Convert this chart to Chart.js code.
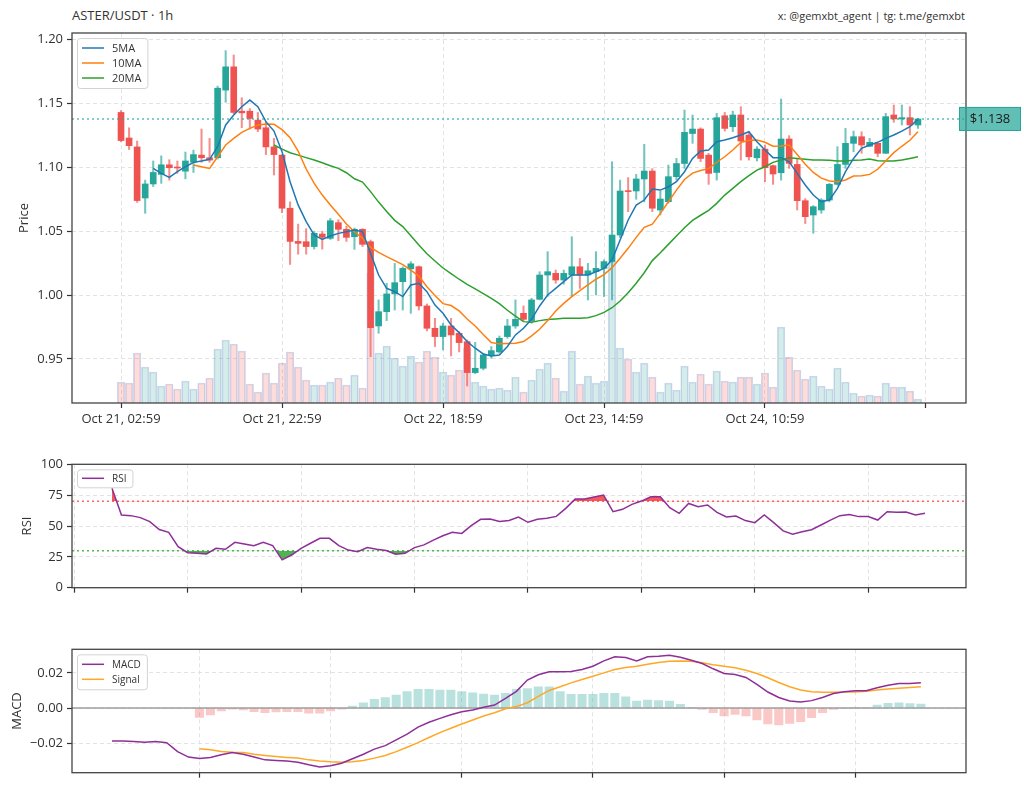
<!DOCTYPE html>
<html>
<head>
<meta charset="utf-8">
<script src="https://cdn.jsdelivr.net/npm/chart.js@4.4.1/dist/chart.umd.min.js"></script>
<style>
  body { margin: 0; background: #fff; font-family: 'Open Sans', 'Noto Sans', sans-serif; }
  #wrap { position: relative; width: 1024px; height: 787px; overflow: hidden; }
  canvas { position: absolute; left: 0; }
  .hdr { position: absolute; color: #333; white-space: nowrap; line-height: 18px; }
</style>
</head>
<body>
<div id="wrap">
  <div class="hdr" style="left:72px; top:6px; font-size:13px;">ASTER/USDT · 1h</div>
  <div class="hdr" style="right:59px; top:7px; font-size:11px;">x: @gemxbt_agent | tg: t.me/gemxbt</div>
  <canvas id="priceChart" width="1024" height="432" style="top:0"></canvas>
  <canvas id="rsiChart" width="1024" height="170" style="top:440px"></canvas>
  <canvas id="macdChart" width="1024" height="157" style="top:630px"></canvas>
</div>
<script>
// hourly candles, ASTER/USDT (index 0 = Oct 21, 02:59)
const opens = [1.143,1.123,1.116,1.076,1.087,1.0945,1.102,1.1002,1.097,1.104,
  1.1096,1.1075,1.1075,1.1605,1.1787,1.144,1.144,1.137,1.131,1.116,
  1.1096,1.068,1.042,1.0418,1.038,1.0478,1.0444,1.0567,1.0515,1.0457,
  1.0515,1.0418,0.9758,0.987,1.0009,1.0105,1.0205,1.0222,0.9915,0.974,
  0.9675,0.9758,0.9701,0.9635,0.9393,0.9427,0.9531,0.9555,0.9675,0.9758,
  0.9857,0.980,0.9967,1.0157,1.017,1.0118,1.0157,1.0222,1.0157,1.0183,
  1.0209,1.0262,1.047,1.0815,1.0815,1.0909,1.0971,1.0666,1.0731,1.0927,
  1.103,1.1265,1.130,1.1096,1.096,1.1404,1.1318,1.141,1.1253,1.1075,
  1.1143,1.1013,1.0958,1.1222,1.1023,1.0739,1.0627,1.0666,1.0744,1.0867,
  1.1023,1.1188,1.124,1.1165,1.1188,1.111,1.141,1.1379,1.1389,1.1332];
const highs = [1.1445,1.131,1.1206,1.090,1.105,1.109,1.106,1.105,1.112,1.1135,
  1.130,1.1227,1.1636,1.1914,1.188,1.1545,1.146,1.143,1.1357,1.1227,
  1.110,1.073,1.0556,1.052,1.050,1.050,1.060,1.059,1.054,1.0525,
  1.052,1.0431,0.9962,1.0092,1.0248,1.0222,1.0262,1.0228,0.993,0.9818,
  0.978,0.9818,0.9714,0.9649,0.963,0.9544,0.9597,0.968,0.981,0.9962,
  0.9915,0.9975,1.0183,1.034,1.0196,1.0196,1.0457,1.0287,1.0248,1.034,
  1.0275,1.1044,1.090,1.092,1.0945,1.118,1.099,1.0815,1.1018,1.107,
  1.1449,1.141,1.131,1.111,1.1423,1.143,1.144,1.1475,1.1279,1.1162,
  1.1175,1.1018,1.1535,1.1248,1.107,1.0755,1.070,1.0755,1.0875,1.1162,
  1.1305,1.1284,1.1279,1.1227,1.119,1.1423,1.1488,1.1488,1.1475,1.1384];
const lows = [1.120,1.114,1.0726,1.064,1.085,1.0875,1.090,1.0953,1.091,1.096,
  1.104,1.104,1.1065,1.151,1.142,1.131,1.130,1.128,1.110,1.094,
  1.0645,1.024,1.032,1.032,1.036,1.036,1.0435,1.0426,1.042,1.0358,
  1.038,0.9518,0.9701,0.980,0.9883,0.9883,0.9857,0.9883,0.972,0.9597,
  0.9571,0.9523,0.9555,0.9288,0.9385,0.9414,0.9505,0.9545,0.9662,0.974,
  0.980,0.978,0.9962,0.999,1.0092,1.0085,0.9988,1.0052,0.9962,1.0001,
  0.9988,0.9962,1.045,1.0653,1.075,1.073,1.0653,1.0627,1.072,1.09,
  1.0992,1.1188,1.1044,1.0867,1.090,1.1284,1.128,1.1057,1.1057,1.105,
  1.0888,1.0867,1.090,1.0992,1.0666,1.056,1.0484,1.064,1.073,1.086,
  1.0992,1.1122,1.111,1.1162,1.1083,1.111,1.1353,1.1332,1.1253,1.1305];
const closes = [1.121,1.117,1.074,1.087,1.096,1.102,1.0997,1.0995,1.105,1.110,
  1.1075,1.1057,1.162,1.1787,1.143,1.1427,1.1383,1.130,1.116,1.110,
  1.068,1.042,1.0405,1.038,1.0484,1.0452,1.0582,1.0515,1.0452,1.0515,
  1.0397,0.9745,0.987,1.0009,1.0097,1.0209,1.0245,0.9915,0.974,0.9675,
  0.9758,0.9688,0.9628,0.9393,0.9427,0.9531,0.9565,0.9662,0.9758,0.981,
  0.981,0.9962,1.0157,1.0183,1.0118,1.017,1.0222,1.0157,1.019,1.0209,
  1.0262,1.047,1.0815,1.081,1.0909,1.0971,1.068,1.0752,1.0927,1.103,
  1.1274,1.130,1.107,1.0953,1.1389,1.1305,1.141,1.1206,1.1083,1.1143,
  1.0997,1.0948,1.1222,1.1031,1.0739,1.0614,1.0692,1.0744,1.0867,1.1023,
  1.1188,1.124,1.1175,1.1196,1.111,1.1397,1.1379,1.1389,1.1332,1.1379];
// volume, relative units (axis top = 370)
const volumes = [21,20,50,36,31,17,19,14,22,14,
  20,25,54,63,59,52,19,11,30,20,
  40,51,36,23,18,18,21,25,18,28,
  15,130,50,57,45,37,47,41,52,46,
  31,28,33,55,21,17,14,15,13,26,
  11,23,34,40,25,12,52,19,27,20,
  22,141,55,44,31,40,26,11,20,13,
  37,21,29,19,32,22,21,26,26,19,
  30,16,76,46,33,24,27,17,14,35,
  21,10,7,8,7,20,16,16,12,4];

// moving averages as drawn (first value at candle 4, 9 and 19)
const ma5 = [1.0992,1.0953,1.0922,1.0966,1.1005,1.1039,1.105,1.1063,1.1162,1.1332,
  1.141,1.1475,1.1527,1.1475,1.1358,1.1284,1.1123,1.0888,1.0706,1.0575,
  1.047,1.0436,1.0462,1.0483,1.0496,1.051,1.0496,1.0327,1.0157,1.0053,
  1.0027,0.9988,1.0079,1.0092,1.0027,0.9922,0.9857,0.9766,0.9706,0.9636,
  0.9584,0.9539,0.9523,0.9531,0.9597,0.9688,0.974,0.981,0.9915,1.0001,
  1.0053,1.0105,1.0157,1.0157,1.0157,1.0183,1.0209,1.0275,1.0431,1.0588,
  1.0705,1.0744,1.083,1.0822,1.0848,1.0888,1.0966,1.107,1.1128,1.1136,
  1.1201,1.1214,1.1232,1.1253,1.1279,1.1201,1.1136,1.1076,1.1076,1.1044,
  1.0953,1.0862,1.0783,1.0731,1.0744,1.0835,1.0966,1.107,1.1149,1.1175,
  1.1196,1.1227,1.1253,1.1284,1.1318,1.1376];
const ma10 = [1.1018,1.1005,1.0992,1.1083,1.1175,1.1227,1.1274,1.1305,1.1332,1.134,
  1.1337,1.1295,1.1232,1.1128,1.0987,1.0875,1.0783,1.0705,1.0632,1.0557,
  1.0496,1.0444,1.0374,1.0335,1.0301,1.027,1.0238,1.0196,1.0149,1.0066,
  0.9996,0.9933,0.9918,0.9876,0.9813,0.9758,0.9691,0.9628,0.9618,0.962,
  0.9623,0.9636,0.968,0.9732,0.98,0.9876,0.9935,0.9988,1.0035,1.0079,
  1.0124,1.016,1.0215,1.0288,1.0366,1.0452,1.053,1.0555,1.064,1.0731,
  1.0822,1.0905,1.0955,1.0975,1.099,1.104,1.1083,1.1136,1.1195,1.1212,
  1.1214,1.1196,1.1165,1.1168,1.1175,1.11,1.1025,1.096,1.0916,1.0893,
  1.0888,1.0901,1.0932,1.0935,1.0945,1.0985,1.105,1.1115,1.1165,1.1212,
  1.1279];
const ma20 = [1.1175,1.1143,1.1115,1.1096,1.1076,1.1057,1.1036,1.1013,1.0992,1.0958,
  1.0911,1.0885,1.081,1.0728,1.0655,1.0585,1.0536,1.0465,1.0392,1.0324,
  1.0267,1.0212,1.0168,1.0124,1.0084,1.0048,1.0011,0.9975,0.9933,0.9881,
  0.9836,0.9792,0.9787,0.98,0.9808,0.9813,0.9818,0.9818,0.9818,0.9823,
  0.9839,0.9865,0.9901,0.9954,1.0019,1.0092,1.0175,1.027,1.0332,1.0397,
  1.0462,1.0527,1.0585,1.0625,1.0663,1.0718,1.0783,1.0835,1.0888,1.0935,
  1.0979,1.1005,1.1039,1.1057,1.1076,1.107,1.1063,1.1057,1.1057,1.1055,
  1.1049,1.1049,1.1055,1.1057,1.1065,1.1052,1.1049,1.1049,1.1057,1.107,
  1.1083];

const rsi = [80.5,58.9,58.4,56.8,53.6,47.2,44.9,33.3,28.4,27.9,
  27.3,31.9,31.1,36.8,35.4,34.1,36.8,34.1,22.6,26.5,
  31.9,36.0,40.0,40.0,34.1,30.5,29.2,32.5,31.1,30.1,
  27.1,27.9,32.5,34.7,38.6,42.1,44.9,44.0,50.3,55.4,
  55.7,53.6,54.4,57.3,53.0,55.4,56.2,57.8,64.3,71.8,
  71.8,73.5,75.1,61.6,63.5,67.5,70.2,73.7,73.7,64.8,
  60.3,68.3,65.6,67.0,61.1,57.3,58.1,54.4,52.7,58.9,
  52.7,46.0,43.3,45.4,47.0,50.8,54.8,58.4,59.4,57.6,
  57.6,54.8,61.6,61.1,61.4,58.9,60.3];
const rsiHigh = 70;
const rsiLow = 30;

const macd = [-0.0187,-0.0187,-0.0191,-0.0195,-0.0191,-0.0197,-0.0248,-0.0279,-0.0287,-0.0281,
  -0.0266,-0.0253,-0.0263,-0.0279,-0.0295,-0.0298,-0.0302,-0.0308,-0.0323,-0.0335,
  -0.0329,-0.0314,-0.0289,-0.0263,-0.0234,-0.0214,-0.0181,-0.0149,-0.0109,-0.0081,
  -0.0059,-0.0038,-0.0021,-0.0011,0.0004,0.0017,0.0055,0.0095,0.0159,0.0189,
  0.0206,0.0206,0.0208,0.0219,0.0238,0.0268,0.0291,0.0287,0.0268,0.0291,
  0.0294,0.0300,0.0289,0.0272,0.0253,0.0223,0.0196,0.0191,0.0174,0.0134,
  0.0091,0.0060,0.0040,0.0034,0.0042,0.0060,0.0083,0.0093,0.0098,0.0098,
  0.0115,0.0130,0.0140,0.0140,0.0144];
// signal and histogram start at macd index 8
const signal = [-0.0232,-0.0238,-0.0247,-0.0251,-0.0253,-0.0263,-0.0270,-0.0276,-0.0281,-0.0285,
  -0.0295,-0.0302,-0.0306,-0.0308,-0.0306,-0.0298,-0.0285,-0.0270,-0.0248,-0.0223,
  -0.0197,-0.0168,-0.0140,-0.0115,-0.0091,-0.0068,-0.0045,-0.0027,-0.0004,0.0008,
  0.0030,0.0066,0.0100,0.0121,0.0143,0.0162,0.0181,0.0200,0.0219,0.0230,
  0.0238,0.0249,0.0259,0.0266,0.0268,0.0266,0.0257,0.0246,0.0238,0.0229,
  0.0215,0.0196,0.0172,0.0145,0.0121,0.0102,0.0093,0.0089,0.0089,0.0091,
  0.0091,0.0096,0.0102,0.0108,0.0113,0.0117,0.0121];
const hist = [-0.0053,-0.0040,-0.0017,-0.0006,-0.0011,-0.0021,-0.0026,-0.0022,-0.0021,-0.0021,
  -0.0030,-0.0030,-0.0017,-0.0006,0.0011,0.0030,0.0049,0.0060,0.0074,0.0093,
  0.0106,0.0106,0.0102,0.0102,0.0093,0.0087,0.0079,0.0074,0.0083,0.0106,
  0.0111,0.0121,0.0121,0.0093,0.0078,0.0078,0.0078,0.0083,0.0083,0.0064,
  0.0040,0.0045,0.0042,0.0040,0.0021,0.0002,-0.0008,-0.0026,-0.0045,-0.0036,
  -0.0045,-0.0068,-0.0091,-0.0096,-0.0087,-0.0077,-0.0055,-0.0026,-0.0008,0.0000,
  0.0002,0.0002,0.0017,0.0026,0.0030,0.0025,0.0023];

const xTickIdx = [0, 20, 40, 60, 80, 100];
const xTickLabels = ['Oct 21, 02:59', 'Oct 21, 22:59', 'Oct 22, 18:59', 'Oct 23, 14:59', 'Oct 24, 10:59', ''];
const priceTicks = [0.95, 1.00, 1.05, 1.10, 1.15, 1.20];
const rsiTicks = [0, 25, 50, 75, 100];
const rsiXTicks = [-4, 8, 20, 32, 44, 56, 68, 80];
const macdTicks = [-0.02, 0, 0.02];
const macdXTicks = [8, 20, 32, 44, 56, 68];

const upColor = '#26a69a';
const downColor = '#ef5350';
const lastPrice = closes[closes.length - 1];

Chart.defaults.font.family = "'Open Sans', 'Noto Sans', sans-serif";
Chart.defaults.font.size = 13;
Chart.defaults.color = '#333';

const framePlugin = {
  id: 'frame',
  afterDraw(chart) {
    const {ctx, chartArea: a} = chart;
    ctx.save();
    ctx.strokeStyle = '#444';
    ctx.lineWidth = 1.3;
    ctx.strokeRect(a.left, a.top, a.right - a.left, a.bottom - a.top);
    ctx.restore();
  }
};

// matplotlib-like legend box in the top-left corner
const boxLegend = {
  id: 'boxLegend',
  afterDraw(chart, args, opts) {
    if (!opts.items) return;
    const {ctx, chartArea: a} = chart;
    ctx.save();
    ctx.font = opts.size + "px 'Open Sans', sans-serif";
    const textW = Math.max(...opts.items.map(it => ctx.measureText(it.label).width));
    const x = a.left + 5, y = a.top + 5;
    const w = 35 + textW + 6;
    const h = opts.items.length * opts.row + 5;
    ctx.fillStyle = 'rgba(255,255,255,0.85)';
    ctx.strokeStyle = '#d3d3d3';
    ctx.lineWidth = 1;
    ctx.beginPath();
    ctx.roundRect(x + 0.5, y + 0.5, w, h, 3);
    ctx.fill();
    ctx.stroke();
    opts.items.forEach((it, j) => {
      const cy = y + 2.5 + opts.row * (j + 0.5);
      ctx.strokeStyle = it.color;
      ctx.lineWidth = 1.5;
      ctx.beginPath();
      ctx.moveTo(x + 5, cy);
      ctx.lineTo(x + 27, cy);
      ctx.stroke();
      ctx.fillStyle = '#333';
      ctx.textBaseline = 'middle';
      ctx.fillText(it.label, x + 35, cy + 0.5);
    });
    ctx.restore();
  }
};

const priceTag = {
  id: 'priceTag',
  afterDraw(chart, args, opts) {
    if (opts.value == null) return;
    const {ctx, chartArea: a} = chart;
    const y = chart.scales.y.getPixelForValue(opts.value);
    const x = a.right - 7;
    ctx.save();
    ctx.fillStyle = 'rgba(38,166,154,0.72)';
    ctx.fillRect(x, y - 12, 62, 24);
    ctx.strokeStyle = '#26a69a';
    ctx.lineWidth = 1;
    ctx.strokeRect(x + 0.5, y - 11.5, 61, 23);
    ctx.fillStyle = '#1a1a1a';
    ctx.font = "13px 'Open Sans', sans-serif";
    ctx.textAlign = 'center';
    ctx.textBaseline = 'middle';
    ctx.fillText(opts.label, x + 31, y + 0.5);
    ctx.restore();
  }
};

const gridOpts = {
  color: '#e3e3e3', lineWidth: 1, offset: false,
  tickLength: 5, tickColor: '#333', tickWidth: 1.2, tickBorderDash: []
};

const xScale = (min, max, tickVals, labels, height) => ({
  type: 'linear', min: min, max: max, offset: false,
  afterBuildTicks: s => { s.ticks = tickVals.map(v => ({value: v})); },
  afterFit: s => { s.height = height; },
  ticks: {
    autoSkip: false, maxRotation: 0, padding: 3,
    callback: (v, i) => labels ? labels[i] : ''
  },
  grid: gridOpts,
  border: {display: false, dash: [4, 3]}
});

const yScale = (min, max, tickVals, fmt, title, titlePad) => ({
  type: 'linear', position: 'left', min: min, max: max,
  afterBuildTicks: s => { s.ticks = tickVals.map(v => ({value: v})); },
  afterFit: s => { s.width = 72; },
  ticks: {padding: 4, callback: fmt},
  grid: gridOpts,
  border: {display: false, dash: [4, 3]},
  title: {display: true, text: title, font: {size: 13}, padding: {top: titlePad, bottom: 0}}
});

const baseOpts = {
  responsive: false,
  animation: false,
  events: [],
  plugins: {legend: {display: false}, tooltip: {enabled: false}}
};

// ---------- price panel ----------
const pXMin = -6.09, pXMax = 104.97;
const candleColor = closes.map((c, i) => c >= opens[i] ? upColor : downColor);
const wickColor = closes.map((c, i) => c >= opens[i] ? 'rgba(38,166,154,0.65)' : 'rgba(239,83,80,0.65)');
const volColor = closes.map((c, i) => c >= opens[i] ? 'rgba(38,166,154,0.2)' : 'rgba(239,83,80,0.2)');

new Chart(document.getElementById('priceChart'), {
  type: 'line',
  data: {
    datasets: [
      {
        label: 'last', data: [{x: pXMin, y: lastPrice}, {x: pXMax, y: lastPrice}],
        borderColor: 'rgba(38,166,154,0.75)', borderWidth: 1.6, borderDash: [2, 3],
        pointRadius: 0, order: 0
      },
      {
        label: '5MA', data: ma5.map((v, j) => ({x: j + 4, y: v})),
        borderColor: '#1f77b4', borderWidth: 1.5, pointRadius: 0, order: 1
      },
      {
        label: '10MA', data: ma10.map((v, j) => ({x: j + 9, y: v})),
        borderColor: '#ff7f0e', borderWidth: 1.5, pointRadius: 0, order: 2
      },
      {
        label: '20MA', data: ma20.map((v, j) => ({x: j + 19, y: v})),
        borderColor: '#2ca02c', borderWidth: 1.5, pointRadius: 0, order: 3
      },
      {
        type: 'bar', label: 'body',
        data: opens.map((o, i) => ({x: i, y: [Math.min(o, closes[i]), Math.max(o, closes[i])]})),
        backgroundColor: candleColor, barThickness: 6, grouped: false, minBarLength: 1, order: 4
      },
      {
        type: 'bar', label: 'wick',
        data: highs.map((h, i) => ({x: i, y: [lows[i], h]})),
        backgroundColor: wickColor, barThickness: 1.4, grouped: false, order: 5
      },
      {
        type: 'bar', label: 'volume', yAxisID: 'yv',
        data: volumes.map((v, i) => ({x: i, y: v})),
        backgroundColor: volColor, borderColor: 'rgba(140,160,215,0.4)', borderWidth: 1,
        barThickness: 7.6, grouped: false, order: 10
      }
    ]
  },
  options: {
    ...baseOpts,
    layout: {padding: {top: 33, right: 58, left: 0, bottom: 0}},
    scales: {
      x: xScale(pXMin, pXMax, xTickIdx, xTickLabels, 29),
      y: yScale(0.9155, 1.2052, priceTicks, v => v.toFixed(2), 'Price', 16),
      yv: {type: 'linear', display: false, min: 0, max: 370}
    },
    plugins: {
      ...baseOpts.plugins,
      boxLegend: {size: 11, row: 15, items: [
        {label: '5MA', color: '#1f77b4'},
        {label: '10MA', color: '#ff7f0e'},
        {label: '20MA', color: '#2ca02c'}
      ]},
      priceTag: {value: lastPrice, label: '$' + lastPrice.toFixed(3)}
    }
  },
  plugins: [framePlugin, boxLegend, priceTag]
});

// ---------- RSI panel ----------
const rXMin = -4.23, rXMax = 90.34;
const rsiPts = rsi.map((v, k) => ({x: k, y: v}));

new Chart(document.getElementById('rsiChart'), {
  type: 'line',
  data: {
    datasets: [
      {
        label: 'RSI', data: rsiPts, borderColor: '#8e2f98', borderWidth: 1.5, pointRadius: 0,
        fill: {target: {value: rsiHigh}, above: 'rgba(244,47,47,0.8)', below: 'rgba(0,0,0,0)'},
        order: 1
      },
      {
        label: 'RSI low', data: rsiPts, borderColor: 'rgba(0,0,0,0)', borderWidth: 0, pointRadius: 0,
        fill: {target: {value: rsiLow}, above: 'rgba(0,0,0,0)', below: 'rgba(40,160,40,0.8)'},
        order: 2
      },
      {
        label: 'overbought', data: [{x: rXMin, y: rsiHigh}, {x: rXMax, y: rsiHigh}],
        borderColor: 'rgba(245,80,80,0.85)', borderWidth: 1.6, borderDash: [2, 3], pointRadius: 0, order: 3
      },
      {
        label: 'oversold', data: [{x: rXMin, y: rsiLow}, {x: rXMax, y: rsiLow}],
        borderColor: 'rgba(60,170,60,0.85)', borderWidth: 1.6, borderDash: [2, 3], pointRadius: 0, order: 4
      }
    ]
  },
  options: {
    ...baseOpts,
    layout: {padding: {top: 24.3, right: 58, left: 0, bottom: 0}},
    scales: {
      x: xScale(rXMin, rXMax, rsiXTicks, null, 22.3),
      y: yScale(0, 100, rsiTicks, v => String(v), 'RSI', 19)
    },
    plugins: {
      ...baseOpts.plugins,
      boxLegend: {size: 10, row: 13, items: [{label: 'RSI', color: '#8e2f98'}]}
    }
  },
  plugins: [framePlugin, boxLegend]
});

// ---------- MACD panel ----------
const mXMin = -3.66, mXMax = 78.13;

new Chart(document.getElementById('macdChart'), {
  type: 'line',
  data: {
    datasets: [
      {
        label: 'MACD', data: macd.map((v, k) => ({x: k, y: v})),
        borderColor: '#8e2f98', borderWidth: 1.5, pointRadius: 0, order: 1
      },
      {
        label: 'Signal', data: signal.map((v, j) => ({x: j + 8, y: v})),
        borderColor: '#ffa726', borderWidth: 1.5, pointRadius: 0, order: 2
      },
      {
        label: 'zero', data: [{x: mXMin, y: 0}, {x: mXMax, y: 0}],
        borderColor: '#9e9e9e', borderWidth: 1.6, pointRadius: 0, order: 3
      },
      {
        type: 'bar', label: 'hist', data: hist.map((v, j) => ({x: j + 8, y: v})),
        backgroundColor: hist.map(v => v >= 0 ? 'rgba(38,166,154,0.32)' : 'rgba(239,83,80,0.32)'),
        barThickness: 8.4, grouped: false, order: 5
      }
    ]
  },
  options: {
    ...baseOpts,
    layout: {padding: {top: 19.3, right: 58, left: 0, bottom: 0}},
    scales: {
      x: xScale(mXMin, mXMax, macdXTicks, null, 14.3),
      y: yScale(-0.0368, 0.0334, macdTicks,
        v => (v < 0 ? '\u2212' : '') + Math.abs(v).toFixed(2), 'MACD', 9)
    },
    plugins: {
      ...baseOpts.plugins,
      boxLegend: {size: 10, row: 15, items: [
        {label: 'MACD', color: '#8e2f98'},
        {label: 'Signal', color: '#ffa726'}
      ]}
    }
  },
  plugins: [framePlugin, boxLegend]
});
</script>
</body>
</html>
